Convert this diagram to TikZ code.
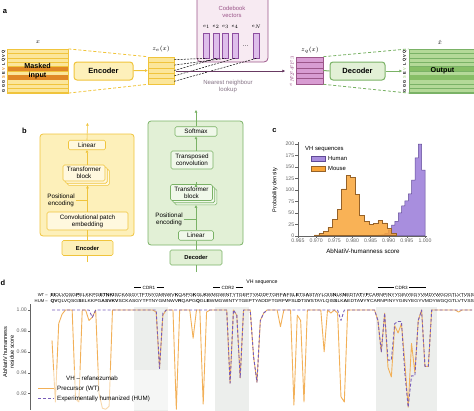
\documentclass[tikz,border=0pt]{standalone}
\usepackage{fontspec}
\setmainfont{Liberation Sans}
\usepackage{graphicx}
\usepackage{xcolor}
\usetikzlibrary{arrows.meta, positioning, shadows, calc}

\definecolor{encline}{RGB}{240, 196, 60}
\definecolor{encfill}{RGB}{253, 240, 186}
\definecolor{encinner}{RGB}{255, 248, 222}
\definecolor{encstripe}{RGB}{251, 230, 155}
\definecolor{maskorange}{RGB}{224, 136, 38}
\definecolor{decline}{RGB}{122, 178, 102}
\definecolor{decfill}{RGB}{226, 240, 214}
\definecolor{decinner}{RGB}{240, 248, 234}
\definecolor{outstripe}{RGB}{180, 217, 152}
\definecolor{outdark}{RGB}{134, 190, 102}
\definecolor{cbline}{RGB}{156, 86, 138}
\definecolor{cbfill}{RGB}{247, 234, 242}
\definecolor{vecfill}{RGB}{222, 190, 234}
\definecolor{vecline}{RGB}{142, 78, 160}
\definecolor{zqfill}{RGB}{216, 156, 210}
\definecolor{lookgrey}{RGB}{132, 114, 132}
\definecolor{lookarrow}{RGB}{104, 58, 98}
\definecolor{humanpurple}{RGB}{168, 142, 222}
\definecolor{humanedge}{RGB}{96, 74, 150}
\definecolor{mouseorange}{RGB}{248, 164, 56}
\definecolor{mouseedge}{RGB}{150, 98, 40}
\definecolor{wtorange}{RGB}{242, 176, 88}
\definecolor{humpurple}{RGB}{120, 92, 184}
\definecolor{cdrgrey}{RGB}{236, 238, 236}
\definecolor{axisgrey}{RGB}{100, 100, 100}

\tikzstyle{panellabel} = [font=\bfseries\fontsize{7.5}{8}\selectfont, inner sep=0pt]
\tikzstyle{bigblock} = [
    rectangle,
    rounded corners=3pt,
    minimum height=18pt,
    line width=1pt,
    inner sep=0pt,
    font=\bfseries\fontsize{7.5}{8}\selectfont
]
\tikzstyle{zrow} = [rectangle, minimum width=26pt, minimum height=5.4pt, inner sep=0pt, line width=0.6pt]
\tikzstyle{vector} = [rectangle, draw=vecline, fill=vecfill, minimum width=6pt, minimum height=25pt, inner sep=0pt, line width=0.6pt]
\tikzstyle{layer} = [
    rectangle,
    rounded corners=1.5pt,
    line width=0.6pt,
    inner sep=1pt,
    align=center,
    font=\fontsize{6.3}{7.2}\selectfont
]
\tikzstyle{arrow} = [->, >={Triangle[length=2.6pt,width=2.6pt]}, line width=0.6pt]
\tikzstyle{ticklabel} = [font=\fontsize{5.2}{5.5}\selectfont, text=axisgrey, inner sep=1pt]
\tikzstyle{wtline} = [wtorange, line width=0.9pt, line join=round]
\tikzstyle{humline} = [humpurple, line width=0.9pt, dash pattern=on 3pt off 2pt, line join=round]

\begin{document}
\begin{tikzpicture}[x=1pt, y=-1pt]
        \useasboundingbox (0,0) rectangle (474,410);
        \clip (0,0) rectangle (474,410);

        % ---------------- a ----------------
        \node[panellabel] (lbla) at (5,12) {a};

        % masked input
        \foreach \r in {0,...,9}
            \draw[encline, fill=encstripe, line width=0.4pt] (7,{49.3+4.34*\r}) rectangle (68,{49.3+4.34*(\r+1)});
        \foreach \r in {4,6}
            \fill[maskorange] (7,{49.3+4.34*\r}) rectangle (68,{49.3+4.34*(\r+1)});
        \node[draw=encline, line width=0.8pt, minimum width=61pt, minimum height=43.4pt, inner sep=0pt,
              align=center, font=\bfseries\fontsize{7.2}{9}\selectfont] (inblock) at (37.5,71) {Masked\\input};
        \foreach \c/\col [count=\r from 0] in {Q/black, V/black, Q/black, L/black, V/maskorange, E/black, S/maskorange, G/black, G/black, G/black}
            \node[rotate=90, text=\col, font=\bfseries\fontsize{4}{4}\selectfont, inner sep=0pt] (inlet\r) at (3.5,{51.47+4.34*\r}) {\c};
        \node[font=\fontsize{6}{6}\selectfont] (xlab) at (38,42) {$x$};

        % encoder and z_e
        \node[bigblock, draw=encline, fill=encfill, minimum width=59pt] (enca) at (103.5,71) {Encoder};
        \foreach \r in {1,...,5}
            \node[zrow, draw=encline, fill=encstripe] (ze\r) at (161,{54.3+5.4*\r}) {};
        \node[font=\fontsize{6}{6}\selectfont] (zelab) at (161,49) {$z_e(x)$};
        \draw[arrow, encline, line width=1pt] (enca) -- (ze3.west);
        \draw[encline, line width=0.8pt, dash pattern=on 3pt off 2pt] (inblock.north east) -- (ze1.north west);
        \draw[encline, line width=0.8pt, dash pattern=on 3pt off 2pt] (inblock.south east) -- (ze5.south west);

        % codebook
        \node[draw=cbline, fill=cbfill, rounded corners=4pt, line width=0.8pt, minimum width=71pt, minimum height=70pt] (codebook) at (232.5,27) {};
        \node[text=cbline, align=center, font=\fontsize{5.9}{7}\selectfont] (cbtitle) at (232,12) {Codebook\\vectors};
        \foreach \n/\xc in {1/206.5, 2/216, 3/225.5, 4/235}
        {
            \node[vector] (cb\n) at (\xc,45.5) {};
            \node[font=\fontsize{4.5}{5}\selectfont, inner sep=0pt] (cblab\n) at (\xc,27) {$e_{\n}$};
        }
        \node[vector] (cbN) at (256.5,45.5) {};
        \node[font=\fontsize{4.5}{5}\selectfont, inner sep=0pt] (cblabN) at (256.5,27) {$e_N$};
        \node[font=\fontsize{6}{6}\selectfont] (cbdots) at (245.5,46) {\dots};
        \foreach \r/\v in {1/1, 2/3, 3/2, 4/4, 5/N}
            \draw[black, line width=0.5pt, dash pattern=on 2pt off 1.2pt] (ze\r.east) -- (cb\v.south);

        % nearest neighbour lookup
        \coordinate (lookfrom) at (176,71);
        \coordinate (lookto) at (285,71);
        \draw[arrow, lookarrow, line width=0.8pt] (lookfrom) -- (lookto);
        \node[text=lookgrey, align=center, font=\fontsize{6}{7}\selectfont] (lookup) at (228,86) {Nearest neighbour\\lookup};

        % z_q and decoder
        \foreach \r/\e in {1/3, 2/1, 3/4, 4/2, 5/N}
        {
            \node[zrow, draw=cbline, fill=zqfill, minimum width=27pt] (zq\r) at (309.5,{54.3+5.4*\r}) {};
            \node[rotate=90, text=cbline, font=\fontsize{3.6}{4}\selectfont, inner sep=0pt] (zqlab\r) at (292,{54.3+5.4*\r}) {$e_{\e}$};
        }
        \node[font=\fontsize{6}{6}\selectfont] (zqlab) at (310,50) {$z_q(x)$};
        \node[bigblock, draw=decline, fill=decfill, minimum width=55pt] (deca) at (357.5,71) {Decoder};
        \draw[decline, line width=1pt] (zq3.east) -- (deca.west);
        \coordinate (outarrow) at (402,71);
        \draw[arrow, decline, line width=1pt] (deca.east) -- (outarrow);

        % output
        \foreach \r in {0,...,9}
            \draw[decline, fill=outstripe, line width=0.4pt] (409,{49.3+4.34*\r}) rectangle (476,{49.3+4.34*(\r+1)});
        \foreach \r in {4,6}
            \fill[outdark] (409,{49.3+4.34*\r}) rectangle (476,{49.3+4.34*(\r+1)});
        \node[draw=decline, line width=0.8pt, minimum width=67pt, minimum height=43.4pt, inner sep=0pt,
              font=\bfseries\fontsize{7.2}{9}\selectfont] (outblock) at (442.5,71) {Output};
        \foreach \c/\col [count=\r from 0] in {Q/black, V/black, Q/black, L/black, V/outstripe, E/black, S/outstripe, G/black, G/black, G/black}
            \node[rotate=90, text=\col, font=\bfseries\fontsize{4}{4}\selectfont, inner sep=0pt] (outlet\r) at (404.5,{51.47+4.34*\r}) {\c};
        \node[font=\fontsize{6}{6}\selectfont] (xhatlab) at (440,42) {$\hat{x}$};
        \draw[decline, line width=0.8pt, dash pattern=on 3pt off 2pt] (zq1.north east) -- (outblock.north west);
        \draw[decline, line width=0.8pt, dash pattern=on 3pt off 2pt] (zq5.south east) -- (outblock.south west);

        % ---------------- b ----------------
        \node[panellabel] (lblb) at (24.5,131) {b};

        % encoder
        \node[draw=encline, fill=encfill, rounded corners=3pt, line width=0.8pt, minimum width=94pt, minimum height=102pt] (encbox) at (87,185) {};
        \node[layer, draw=encline, fill=encinner, minimum width=37pt, minimum height=9.5pt] (enclin) at (87,145) {Linear};
        \node[layer, draw=encline, fill=encinner, minimum width=42pt, minimum height=16pt,
              double copy shadow={shadow xshift=2.2pt, shadow yshift=-2.2pt}] (enctf) at (84,173) {Transformer\\block};
        \node[layer] (encpos) at (61,200) {Positional\\encoding};
        \node[layer, draw=encline, fill=encinner, minimum width=81pt, minimum height=18pt] (encconv) at (87.5,221) {Convolutional patch\\embedding};
        \node[layer, draw=encline, fill=encfill, minimum width=51pt, minimum height=15pt,
              font=\bfseries\fontsize{5.8}{6}\selectfont] (enclab) at (87.5,248) {Encoder};
        \coordinate (encin) at (87.5,262);
        \coordinate (encout) at (87.5,123);
        \draw[encline, line width=0.6pt] (encin) -- (enclab.south);
        \draw[encline, line width=0.6pt] (enclab.north) -- (encconv.south);
        \draw[arrow, encline, shorten >=4.4pt] (encconv.north) -- (encconv.north |- enctf.south);
        \draw[arrow, encline] (enctf.north -| enclin.south) -- (enclin.south);
        \draw[arrow, encline] (enclin.north) -- (encout);
        \draw[encline, line width=0.6pt] (encpos.east) -- (encpos.east -| encconv.north);

        % decoder
        \node[draw=decline, fill=decfill, rounded corners=3pt, line width=0.8pt, minimum width=95pt, minimum height=124pt] (decbox) at (195.5,183) {};
        \node[layer, draw=decline, fill=decinner, minimum width=42pt, minimum height=9.5pt] (decsoft) at (196,131.5) {Softmax};
        \node[layer, draw=decline, fill=decinner, minimum width=42pt, minimum height=18pt] (dectc) at (192,160) {Transposed\\convolution};
        \node[layer, draw=decline, fill=decinner, minimum width=42pt, minimum height=16pt,
              double copy shadow={shadow xshift=2.2pt, shadow yshift=-2.2pt}] (dectf) at (191.5,192.5) {Transformer\\block};
        \node[layer] (decpos) at (169,219) {Positional\\encoding};
        \node[layer, draw=decline, fill=decinner, minimum width=35pt, minimum height=9.5pt] (declin) at (196,235.5) {Linear};
        \node[layer, draw=decline, fill=decfill, minimum width=52pt, minimum height=15pt,
              font=\bfseries\fontsize{5.8}{6}\selectfont] (declab) at (196,257.5) {Decoder};
        \coordinate (decin) at (196,272);
        \coordinate (decout) at (196,110);
        \draw[decline, line width=0.6pt] (decin) -- (declab.south);
        \draw[decline, line width=0.6pt] (declab.north) -- (declin.south);
        \draw[arrow, decline, shorten >=4.4pt] (declin.north) -- (declin.north |- dectf.south);
        \draw[arrow, decline] (dectf.north -| declin.north) -- (dectf.north -| declin.north |- dectc.south);
        \draw[arrow, decline] (dectc.north -| decsoft.south) -- (decsoft.south);
        \draw[arrow, decline] (decsoft.north) -- (decout);
        \draw[decline, line width=0.6pt] (decpos.east) -- (decpos.east -| declin.north);

        % ---------------- c ----------------
        \node[panellabel] (lblc) at (274.5,131) {c};
        \begin{scope}[shift={(298,235.7)}, x=3.629pt, y=0.4585pt]
            % human
            \filldraw[fill=humanpurple, draw=humanedge, line width=0.5pt] (22.12,0)
                \foreach \h [count=\k] in {1,2,5,12,23,31,50,65,76,91,121,170,200,143}
                { -- ({22.12+(\k-1)*0.92},\h) -- ({22.12+\k*0.92},\h) } -- (35,0) -- cycle;
            % mouse
            \filldraw[fill=mouseorange, fill opacity=0.85, draw=mouseedge, line width=0.5pt] (4.5,0)
                \foreach \h [count=\k] in {2,5,10,18,36,58,102,131,127,90,45,31,25,27,33,28,16,5}
                { -- ({4.5+(\k-1)*1.25},\h) -- ({4.5+\k*1.25},\h) } -- (27,0) -- cycle;
            % axes
            \draw[axisgrey, line width=0.4pt] (0,0) -- (35.5,0);
            \draw[axisgrey, line width=0.4pt] (0,0) -- (0,205);
            \foreach \t/\lab in {0/0.965, 5/0.970, 10/0.975, 15/0.980, 20/0.985, 25/0.990, 30/0.995, 35/1.000}
            {
                \draw[axisgrey, line width=0.4pt] (\t,0) -- (\t,-5);
                \node[ticklabel, anchor=north] (xt\t) at (\t,-5) {\lab};
            }
            \foreach \v in {0,25,...,200}
            {
                \draw[axisgrey, line width=0.4pt] (0,\v) -- (-0.7,\v);
                \node[ticklabel, anchor=east] (yt\v) at (-0.7,\v) {\v};
            }
        \end{scope}
        \node[rotate=90, font=\fontsize{5.5}{6}\selectfont] (ylabc) at (275,190) {Probability density};
        \node[font=\fontsize{6.2}{7}\selectfont] (xlabc) at (363,251.5) {AbNatiV-humanness score};
        \node[anchor=west, font=\fontsize{5.9}{7}\selectfont, inner sep=0pt] (legc) at (305,149) {VH sequences};
        \draw[fill=humanpurple, draw=humanedge, line width=0.4pt] (311,156) rectangle (325,161.5);
        \draw[fill=mouseorange, draw=mouseedge, line width=0.4pt] (311,166) rectangle (325,171.5);
        \node[anchor=west, font=\fontsize{5.9}{7}\selectfont, inner sep=0pt] (leghuman) at (328,158.7) {Human};
        \node[anchor=west, font=\fontsize{5.9}{7}\selectfont, inner sep=0pt] (legmouse) at (328,168.7) {Mouse};

        % ---------------- d ----------------
        \node[panellabel] (lbld) at (3,283) {d};
        \node[font=\fontsize{5.2}{6}\selectfont] (vhseq) at (262,282.5) {VH sequence};
        \node[font=\fontsize{4.6}{5}\selectfont] (cdr1) at (149,288) {\rule[0.7ex]{7pt}{0.4pt} CDR1 \rule[0.7ex]{7pt}{0.4pt}};
        \node[font=\fontsize{4.6}{5}\selectfont] (cdr2) at (228,288) {\rule[0.7ex]{7pt}{0.4pt} CDR2 \rule[0.7ex]{7pt}{0.4pt}};
        \node[font=\fontsize{4.6}{5}\selectfont] (cdr3) at (402,288) {\rule[0.7ex]{16pt}{0.4pt} CDR3 \rule[0.7ex]{17pt}{0.4pt}};
        \node[anchor=east, font=\fontsize{4.2}{5}\selectfont, inner sep=0pt] (wtlab) at (48,295) {WT --};
        \node[anchor=east, font=\fontsize{4.2}{5}\selectfont, inner sep=0pt] (humlab) at (48,301) {HUM --};
        \node[anchor=west, inner sep=0pt] (wtseq) at (50.3,295) {\resizebox{423.4pt}{3pt}{\textbf{EI}QLVQSG\textbf{P}ELKKPG\textbf{ETNKI}SCKASGYTFTNYGMNWV\textbf{K}QAPG\textbf{K}GL\textbf{K}WMGWINTYTGEPTYADDFTGRF\textbf{A}FSL\textbf{E}TS\textbf{A}STAYLQIS\textbf{N}LK\textbf{N}EDTA\textbf{T}Y\textbf{F}CARNPINYYGINYEGYVMDYWGQGTLVTVSS}};
        \node[anchor=west, inner sep=0pt] (humseq) at (50.3,301) {\resizebox{423.4pt}{3pt}{\textbf{QV}QLVQSG\textbf{S}ELKKPG\textbf{ASVKV}SCKASGYTFTNYGMNWV\textbf{R}QAPG\textbf{Q}GL\textbf{E}WMGWINTYTGEPTYADDFTGRF\textbf{V}FSL\textbf{D}TS\textbf{V}STAYLQIS\textbf{S}LK\textbf{A}EDTA\textbf{V}Y\textbf{Y}CARNPINYYGINYEGYVMDYWGQGTLVTVSS}};
        \draw[axisgrey!60, line width=0.3pt, dotted] ($(wtseq.south west)+(0,-0.6)$) -- ($(wtseq.south east)+(0,-0.6)$);

        \begin{scope}[shift={(48.64,310)}, x=3.36pt, y=1.045pt]
            % CDR shading
            \fill[cdrgrey] (25.5,3) rectangle (35.5,-100);
            \fill[cdrgrey] (49.5,3) rectangle (59.5,-100);
            \fill[cdrgrey] (97.5,3) rectangle (115.5,-100);
            % precursor
            \draw[wtline] plot coordinates {(1,-29) (2,-88) (3,-13) (4,-4) (5,0) (7,0) (8,-85) (9,-88) (10,0) (11,0)
                (12,-10) (13,-7) (14,0) (15,-80) (16,-94) (17,-95) (18,-92) (19,0) (31,0) (32,-2) (33,-56) (34,-5)
                (35,0) (37,0) (38,-95) (39,0) (42,0) (43,-27) (44,0) (45,0) (46,-90) (47,-2) (48,0) (53,0) (54,-70)
                (55,0) (56,-5) (57,-65) (58,0) (60,0) (61,-45) (62,-69) (63,-10) (64,-3) (65,0) (68,0) (69,-16)
                (70,0) (72,0) (73,-91) (74,-5) (75,-10) (76,-88) (77,0) (81,0) (82,-40) (83,0) (84,-3) (85,0)
                (86,-3) (87,-83) (88,-88) (89,0) (97,0) (98,-10) (99,-40) (100,-3) (101,-55) (102,-64) (103,-15)
                (104,-22) (105,-13) (106,-50) (107,-93) (108,-32) (109,-60) (110,-10) (111,0) (112,-54) (113,-54)
                (114,0) (121,0) (122,-2) (123,0) (126,0)};
            % humanized
            \draw[humline] plot coordinates {(1,0) (12,0) (13,-7) (14,0) (32,0) (33,-56) (34,-3) (35,0) (53,0)
                (54,-70) (55,0) (56,-5) (57,-65) (58,0) (60,0) (61,-45) (62,-69) (63,-10) (64,-3) (65,0) (86,0)
                (87,-10) (88,0) (97,0) (98,-10) (99,-40) (100,-3) (101,-48) (102,-48) (103,-13) (104,-11)
                (105,-11) (106,-60) (107,-93) (108,-63) (109,-63) (110,-10) (111,0) (112,-54) (113,-54) (114,0)
                (126,0)};
        \end{scope}

        % axis and legend
        \draw[axisgrey, line width=0.4pt] (30,304) -- (30,410);
        \foreach \d/\lab in {0/1.00, 20/0.98, 40/0.96, 60/0.94, 80/0.92}
        {
            \draw[axisgrey, line width=0.4pt] (28,{310+1.045*\d}) -- (30,{310+1.045*\d});
            \node[ticklabel, anchor=east] (ytd\d) at (28,{310+1.045*\d}) {\lab};
        }
        \node[rotate=90, align=center, font=\fontsize{5.6}{6.6}\selectfont] (ylabd) at (8.5,352) {AbNatiV humanness\\residue score};
        \fill[white, fill opacity=0.5] (31,370) rectangle (168,410);
        \node[anchor=west, font=\fontsize{6.2}{7}\selectfont, inner sep=0pt] (legvh) at (66,378.5) {VH -- refanezumab};
        \node[anchor=west, font=\fontsize{6.2}{7}\selectfont, inner sep=0pt] (legwt) at (57,388.5) {Precursor (WT)};
        \node[anchor=west, font=\fontsize{6.2}{7}\selectfont, inner sep=0pt] (leghum) at (57,398.5) {Experimentally humanized (HUM)};
        \draw[wtline] ($(legwt.west)+(-19,0)$) -- ($(legwt.west)+(-3,0)$);
        \draw[humline] ($(leghum.west)+(-19,0)$) -- ($(leghum.west)+(-3,0)$);
    \end{tikzpicture}
\end{document}
